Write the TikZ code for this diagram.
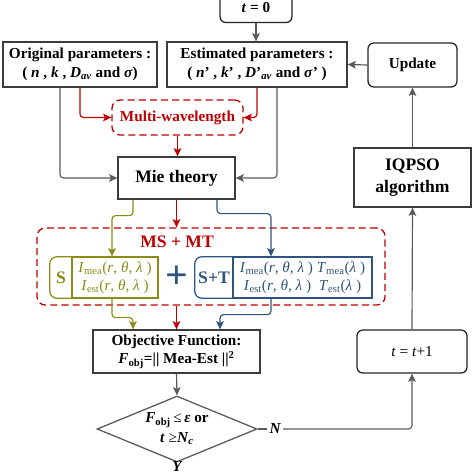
\documentclass[tikz,border=0pt]{standalone}
\usepackage{fontspec}
\setmainfont{Liberation Serif}
\usetikzlibrary{arrows.meta,calc,shapes.geometric}

\definecolor{redline}{RGB}{192,0,0}
\definecolor{olivebox}{RGB}{140,140,20}
\definecolor{bluebox}{RGB}{47,84,126}
\definecolor{greyline}{RGB}{90,90,90}
\definecolor{boxedge}{RGB}{60,60,60}

\tikzset{
  sz/.style 2 args={minimum width=#1*0.03cm, minimum height=#2*0.03cm},
  box/.style={draw=boxedge, line width=1.1pt, fill=white, align=center,
    inner sep=0pt, font=\bfseries\fontsize{13}{16}\selectfont},
  rbox/.style={box, draw=black!85, rounded corners=5pt},
  dbox/.style={draw=redline, line width=1.1pt, dash pattern=on 6pt off 3.5pt,
    rounded corners=7pt, inner sep=0pt},
  tip/.style={-{Stealth[length=7pt,width=6.5pt,inset=1.5pt]}},
  conn/.style={tip, draw=greyline, line width=1pt, rounded corners=3pt},
  rconn/.style={conn, draw=redline, fill=none},
  oconn/.style={conn, draw=olivebox},
  bconn/.style={conn, draw=bluebox},
}

\begin{document}
\begin{tikzpicture}[x=0.03cm, y=-0.03cm]
  \useasboundingbox (0,0) rectangle (474,474);

  %---------------------------------------
  % top row: start, parameters, update
  \node[rbox, sz={72}{30}] (tzero) at (256,7.5) {\textit{t} = 0};
  \node[box, sz={154}{45}] (orig) at (80,64.5)
    {Original parameters :\\( \textit{n} , \textit{k} , \textit{D}\textsubscript{\textit{av}} and \textit{σ})};
  \node[box, sz={180}{45}] (est) at (257,64.5)
    {Estimated parameters :\\( \textit{n}' , \textit{k}' , \textit{D}'\textsubscript{\textit{av}} and \textit{σ}' )};
  \node[rbox, sz={89}{44}] (update) at (412.5,65) {Update};

  %---------------------------------------
  % middle: multi-wavelength, Mie theory, IQPSO
  \node[dbox, sz={131}{35}, text=redline, font=\bfseries\fontsize{13}{16}\selectfont]
    (mwl) at (177.5,117.5) {Multi-wavelength};
  \node[box, sz={117}{42}, font=\bfseries\fontsize{15}{18}\selectfont] (mie) at (176.5,178) {Mie theory};
  \node[box, sz={117}{59}, font=\bfseries\fontsize{15}{19}\selectfont] (iqpso) at (412.5,177.5)
    {IQPSO\\algorithm};

  %---------------------------------------
  % MS + MT group
  \node[dbox, sz={348}{77}] (msmt) at (211,266.5) {};
  \node[text=redline, font=\bfseries\fontsize{15}{18}\selectfont] (msmtlab) at (177,242) {MS + MT};

  % S box (label | signals)
  \node[sz={22}{41}, text=olivebox, font=\bfseries\fontsize{15}{18}\selectfont, inner sep=0pt]
    (slab) at (61,277.5) {S};
  \node[draw=olivebox, line width=1.1pt, sz={86}{41}, inner sep=0pt, align=center,
    text=olivebox, font=\fontsize{13}{15.5}\selectfont] (sbody) at (115,277.5)
    {\textit{I}\textsubscript{mea}(\textit{r}, \textit{θ}, \textit{λ} )\\\textit{I}\textsubscript{est}(\textit{r}, \textit{θ}, \textit{λ} )};
  \draw[olivebox, line width=1.1pt, rounded corners=6pt]
    (slab.north east) -| (slab.south west) -- (slab.south east);

  \node[text=bluebox, font=\bfseries\fontsize{34}{34}\selectfont] (plus) at (177,277) {+};

  % S+T box (label | signals)
  \node[sz={38}{41}, text=bluebox, font=\bfseries\fontsize{15}{18}\selectfont, inner sep=0pt]
    (stlab) at (214,277.5) {S+T};
  \node[draw=bluebox, line width=1.1pt, sz={139}{41}, inner sep=0pt, align=center,
    text=bluebox, font=\fontsize{13}{15.5}\selectfont] (stbody) at (302.5,277.5)
    {\textit{I}\textsubscript{mea}(\textit{r}, \textit{θ}, \textit{λ} ) \textit{T}\textsubscript{mea}(\textit{λ} )\\
     \textit{I}\textsubscript{est}(\textit{r}, \textit{θ}, \textit{λ} )\ \ \textit{T}\textsubscript{est}(\textit{λ} )};
  \draw[bluebox, line width=1.1pt, rounded corners=6pt]
    (stlab.north east) -| (stlab.south west) -- (stlab.south east);

  %---------------------------------------
  % bottom: objective, check, counter
  \node[box, sz={167}{43}] (obj) at (176.5,351.5)
    {Objective Function:\\\textit{F}\textsubscript{obj}=|| Mea-Est ||\textsuperscript{2}};
  \node[diamond, draw=greyline, line width=1.1pt, aspect=2.4, inner sep=0pt, sz={160}{66},
    align=center, font=\bfseries\fontsize{13}{17}\selectfont] (check) at (177,429)
    {\textit{F}\textsubscript{obj}\,{\mdseries≤}\,\textit{ε} or\\\textit{t} {\mdseries≥}\textit{N}\textsubscript{\textit{c}}};
  \node[font=\bfseries\itshape\fontsize{13}{16}\selectfont, inner sep=2pt] (nlab) at (275,429) {N};
  \node[anchor=north, font=\bfseries\itshape\fontsize{13}{16}\selectfont, inner sep=0pt] (ylab) at (177,461) {Y};
  \node[rbox, sz={110}{43}, font=\fontsize{13}{16}\selectfont] (tplus) at (412,351.5)
    {\textit{t} = \textit{t}+1};

  %---------------------------------------
  % connectors
  \draw[conn] (tzero.south) -- (tzero.south |- est.north);
  \draw[conn] (update.west) -- (est.east);
  \draw[rconn] (orig.south) |- (mwl.west);
  \draw[rconn] (est.south) |- (mwl.east);
  \draw[conn] ($(orig.south)+(-20,0)$) |- (mie.west);
  \draw[conn] ($(est.south)+(20,0)$) |- (mie.east);
  \draw[rconn] (mwl.south) -- (mwl.south |- mie.north);
  \draw[rconn] (mie.south) -- (mie.south |- msmt.north);
  \draw[oconn] ($(mie.south)+(-43.5,0)$) -- ++(0,16) -| ($(sbody.north)+(-3,0)$);
  \draw[bconn] ($(mie.south)+(40.5,0)$) -- ++(0,14) -| ($(stbody.north)+(-31.5,0)$);
  \draw[oconn] ($(sbody.south)+(-3,0)$) -- ++(0,19) -| ($(obj.north)+(-43.5,0)$);
  \draw[rconn] (obj.north |- msmt.south) -- (obj.north);
  \draw[bconn] ($(stbody.south)+(-31.5,0)$) -- ++(0,16) -| ($(obj.north)+(43.5,0)$);
  \draw[conn] (obj.south) -- (check.north);
  \draw[greyline, line width=1pt] (check.east) -- (nlab.west);
  \draw[conn] (nlab.east) -| (tplus.south);
  \draw[conn] (tplus.north) -- (iqpso.south);
  \draw[conn] (iqpso.north) -- (update.south);
\end{tikzpicture}
\end{document}
